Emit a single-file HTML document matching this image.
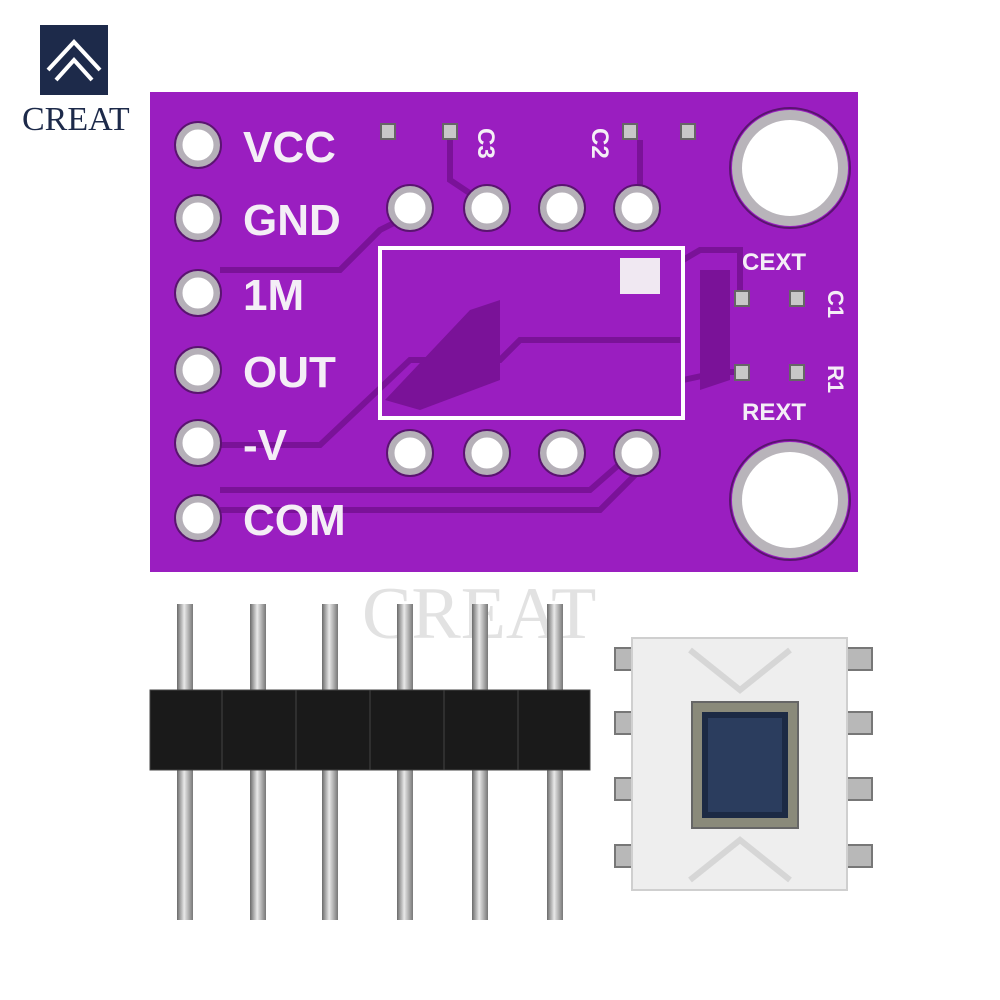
<!DOCTYPE html>
<html><head><meta charset="utf-8"><style>
html,body{margin:0;padding:0;background:#fff;width:1000px;height:1000px;overflow:hidden}
</style></head><body>
<svg width="1000" height="1000" viewBox="0 0 1000 1000" xmlns="http://www.w3.org/2000/svg">
<defs>
<linearGradient id="pin" x1="0" x2="1" y1="0" y2="0">
<stop offset="0" stop-color="#6a6a6a"/><stop offset="0.45" stop-color="#e8e8e8"/><stop offset="1" stop-color="#777"/>
</linearGradient>
</defs>
<!-- logo -->
<rect x="40" y="25" width="68" height="70" fill="#1d2a4a"/>
<path d="M48 70 L74 42 L100 70 M56 80 L74 60 L92 80" stroke="#fff" stroke-width="4" fill="none"/>
<text x="22" y="130" font-family="Liberation Serif, serif" font-size="34" fill="#1d2a4a">CREAT</text>
<!-- PCB -->
<rect x="150" y="92" width="708" height="480" fill="#9a1ec0"/>
<g stroke="#7a1298" stroke-width="6" fill="none">
<path d="M220 270 L340 270 L380 230 L400 220"/>
<path d="M220 445 L320 445 L410 360 L500 360 L520 340 L680 340"/>
<path d="M220 510 L600 510 L640 470"/>
<path d="M220 490 L590 490 L630 455"/>
<path d="M683 260 L700 250 L740 250 L740 298"/>
<path d="M683 380 L720 372 L742 372"/>
<path d="M450 140 L450 180 L480 200"/>
<path d="M640 140 L640 190"/>
</g>
<path d="M385 400 L470 310 L500 300 L500 380 L420 410 Z" fill="#7a1298"/>
<path d="M700 270 L730 270 L730 380 L700 390 Z" fill="#7a1298"/>
<!-- pads -->
<g fill="#c8c8c8" stroke="#666" stroke-width="2">
<rect x="381" y="124" width="14" height="15"/><rect x="443" y="124" width="14" height="15"/>
<rect x="623" y="124" width="14" height="15"/><rect x="681" y="124" width="14" height="15"/>
<rect x="735" y="291" width="14" height="15"/><rect x="790" y="291" width="14" height="15"/>
<rect x="735" y="365" width="14" height="15"/><rect x="790" y="365" width="14" height="15"/>
</g>
<rect x="620" y="258" width="40" height="36" fill="#f0e8f2"/>
<rect x="380" y="248" width="303" height="170" fill="none" stroke="#fff" stroke-width="4"/>
<!-- holes -->
<g fill="#fff" stroke="#b5b0b8" stroke-width="7">
<circle cx="198" cy="145" r="19"/><circle cx="198" cy="218" r="19"/><circle cx="198" cy="293" r="19"/>
<circle cx="198" cy="370" r="19"/><circle cx="198" cy="443" r="19"/><circle cx="198" cy="518" r="19"/>
<circle cx="410" cy="208" r="19"/><circle cx="487" cy="208" r="19"/><circle cx="562" cy="208" r="19"/><circle cx="637" cy="208" r="19"/>
<circle cx="410" cy="453" r="19"/><circle cx="487" cy="453" r="19"/><circle cx="562" cy="453" r="19"/><circle cx="637" cy="453" r="19"/>
</g>
<g fill="none" stroke="#5a1470" stroke-width="2">
<circle cx="198" cy="145" r="23"/><circle cx="198" cy="218" r="23"/><circle cx="198" cy="293" r="23"/>
<circle cx="198" cy="370" r="23"/><circle cx="198" cy="443" r="23"/><circle cx="198" cy="518" r="23"/>
<circle cx="410" cy="208" r="23"/><circle cx="487" cy="208" r="23"/><circle cx="562" cy="208" r="23"/><circle cx="637" cy="208" r="23"/>
<circle cx="410" cy="453" r="23"/><circle cx="487" cy="453" r="23"/><circle cx="562" cy="453" r="23"/><circle cx="637" cy="453" r="23"/>
<circle cx="790" cy="168" r="60"/><circle cx="790" cy="500" r="60"/>
</g>
<g fill="#fff" stroke="#b8b4ba" stroke-width="10">
<circle cx="790" cy="168" r="53"/><circle cx="790" cy="500" r="53"/>
</g>
<g font-family="Liberation Sans, sans-serif" font-weight="bold" fill="#f4eef6">
<text x="243" y="162" font-size="44">VCC</text>
<text x="243" y="235" font-size="44">GND</text>
<text x="243" y="310" font-size="44">1M</text>
<text x="243" y="387" font-size="44">OUT</text>
<text x="243" y="460" font-size="44">-V</text>
<text x="243" y="535" font-size="44">COM</text>
<text x="742" y="270" font-size="24">CEXT</text>
<text x="742" y="420" font-size="24">REXT</text>
<text font-size="24" transform="translate(478,128) rotate(90)">C3</text>
<text font-size="24" transform="translate(592,128) rotate(90)">C2</text>
<text font-size="22" transform="translate(828,290) rotate(90)">C1</text>
<text font-size="22" transform="translate(828,365) rotate(90)">R1</text>
</g>
<!-- watermark -->
<text x="362" y="638" font-family="Liberation Serif, serif" font-size="74" fill="#e2e2e2">CREAT</text>
<!-- header pins -->
<g fill="url(#pin)">
<rect x="177" y="604" width="16" height="316"/><rect x="250" y="604" width="16" height="316"/>
<rect x="322" y="604" width="16" height="316"/><rect x="397" y="604" width="16" height="316"/>
<rect x="472" y="604" width="16" height="316"/><rect x="547" y="604" width="16" height="316"/>
</g>
<g fill="#1a1a1a" stroke="#444" stroke-width="1">
<rect x="150" y="690" width="72" height="80"/><rect x="222" y="690" width="74" height="80"/>
<rect x="296" y="690" width="74" height="80"/><rect x="370" y="690" width="74" height="80"/>
<rect x="444" y="690" width="74" height="80"/><rect x="518" y="690" width="72" height="80"/>
</g>
<!-- sensor chip -->
<g fill="#b8b8b8" stroke="#777" stroke-width="2">
<rect x="615" y="648" width="25" height="22"/><rect x="615" y="712" width="25" height="22"/>
<rect x="615" y="778" width="25" height="22"/><rect x="615" y="845" width="25" height="22"/>
<rect x="842" y="648" width="30" height="22"/><rect x="842" y="712" width="30" height="22"/>
<rect x="842" y="778" width="30" height="22"/><rect x="842" y="845" width="30" height="22"/>
</g>
<rect x="632" y="638" width="215" height="252" fill="#eeeeee" stroke="#cfcfcf" stroke-width="2"/>
<path d="M690 650 L740 690 L790 650 M690 880 L740 840 L790 880" stroke="#d6d6d6" stroke-width="6" fill="none"/>
<rect x="692" y="702" width="106" height="126" fill="#8a8a7a" stroke="#666" stroke-width="2"/>
<rect x="702" y="712" width="86" height="106" fill="#1c2a44"/>
<rect x="708" y="718" width="74" height="94" fill="#2b3d5e"/>
</svg>
</body></html>
